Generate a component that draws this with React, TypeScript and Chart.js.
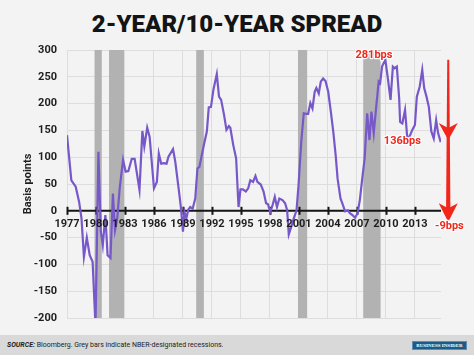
import React, { useEffect, useRef } from "react";
import { Chart, registerables } from "chart.js";
Chart.register(...registerables);

// ---- data ----
const spreadDates = [
  1977.0, 1977.45, 1977.9, 1978.25, 1978.5, 1978.75, 1979.05, 1979.35, 1979.65, 1979.95,
  1980.25, 1980.5, 1980.7, 1980.97, 1981.2, 1981.5, 1981.75, 1981.97, 1982.2, 1982.45,
  1982.8, 1983.07, 1983.35, 1983.7, 1984.0, 1984.5, 1984.8, 1985.0, 1985.3, 1985.55,
  1986.0, 1986.3, 1986.5, 1986.75, 1987.0, 1987.3, 1987.5, 1987.97, 1988.2, 1988.55,
  1988.8, 1989.0, 1989.15, 1989.35, 1989.55, 1989.75, 1990.0, 1990.27, 1990.5, 1990.7,
  1990.95, 1991.2, 1991.47, 1991.67, 1991.9, 1992.15, 1992.5, 1992.73, 1992.95, 1993.25,
  1993.5, 1993.75, 1993.9, 1994.2, 1994.5, 1994.75, 1994.95, 1995.2, 1995.5, 1995.75,
  1995.97, 1996.25, 1996.5, 1996.7, 1997.05, 1997.34, 1997.6, 1997.8, 1998.03, 1998.28,
  1998.5, 1998.73, 1998.97, 1999.3, 1999.57, 1999.78, 1999.95, 2000.2, 2000.47, 2000.75,
  2000.96, 2001.24, 2001.5, 2001.76, 2001.95, 2002.18, 2002.4, 2002.63, 2002.8, 2003.05,
  2003.26, 2003.5, 2003.75, 2004.03, 2004.3, 2004.55, 2004.8, 2005.0, 2005.3, 2005.53,
  2005.77, 2006.05, 2006.3, 2006.54, 2006.8, 2007.06, 2007.3, 2007.55, 2007.8, 2008.06,
  2008.3, 2008.5, 2008.74, 2008.98, 2009.25, 2009.4, 2009.6, 2009.94, 2010.2, 2010.48,
  2010.72, 2010.9, 2011.13, 2011.37, 2011.47, 2011.7, 2011.98, 2012.2, 2012.43, 2012.73,
  2013.0, 2013.2, 2013.5, 2013.76, 2013.96, 2014.2, 2014.44, 2014.7, 2014.95, 2015.2,
  2015.4, 2015.67,
];
const spreadValues = [
  141, 57, 45, 17, -14, -86, -50, -83, -95, -215,
  110, -39, -64, -8, -83, -88, 32, -36, -14, 42,
  95, 73, 74, 97, 97, 39, 149, 120, 155, 138,
  42, 54, 107, 88, 89, 88, 101, 115, 92, 42,
  4, -39, -2, -14, 2, 7, 4, 23, 79, 82,
  104, 126, 148, 193, 194, 226, 255, 213, 207, 179,
  151, 158, 155, 123, 98, 7, 40, 40, 36, 42,
  57, 54, 65, 54, 49, 36, 14, 12, -2, 11,
  26, 7, 23, 20, 14, 1, -44, -30, -14, 1,
  48, 129, 182, 181, 181, 201, 191, 222, 229, 219,
  241, 247, 242, 222, 185, 148, 104, 60, 23, 12,
  -1, 1, -5, -8, -13, -5, 20, 60, 98, 182,
  132, 185, 145, 191, 241, 238, 269, 282, 247, 207,
  269, 266, 269, 210, 166, 163, 188, 138, 138, 151,
  160, 213, 232, 263, 229, 213, 194, 148, 135, 169,
  145, 128,
];
const xTickYears = [1977, 1980, 1983, 1986, 1989, 1992, 1995, 1998, 2001, 2004, 2007, 2010, 2013];
const yMin = -200;
const yMax = 300;
const yStep = 50;
const xMin = 1977;
const xMax = 2015.7;
const recessionStarts = [1979.85, 1981.35, 1990.37, 2000.9, 2007.65];
const recessionEnds = [1980.6, 1982.9, 1991.16, 2001.85, 2009.45];
const noteTexts = ["281bps", "136bps", "-9bps"];
const noteYears = [2008.76, 2011.7, 2016.57];
const noteValues = [291, 129, -29];
const arrowYear = 2016.45;
const arrowTopValue = 282;
const arrowHeadTops = [164, 14];
const arrowHeadTips = [132, -21];

const RED = "#f2261a";

const overlayPlugin = {
  id: "overlay",
  beforeDatasetsDraw(chart: any) {
    const { ctx, chartArea, scales } = chart;
    const x = scales.x, y = scales.y;
    ctx.save();
    ctx.fillStyle = "#b2b2b2";
    recessionStarts.forEach((s, i) => {
      const x1 = x.getPixelForValue(s);
      const x2 = x.getPixelForValue(recessionEnds[i]);
      ctx.fillRect(x1, chartArea.top, x2 - x1, chartArea.bottom - chartArea.top);
    });
    const y0 = y.getPixelForValue(0);
    ctx.strokeStyle = "#151515";
    ctx.lineWidth = 2;
    ctx.beginPath();
    ctx.moveTo(chartArea.left, y0);
    ctx.lineTo(chartArea.right, y0);
    ctx.stroke();
    xTickYears.forEach((v) => {
      const px = Math.round(x.getPixelForValue(v)) + 0.5;
      ctx.beginPath();
      ctx.moveTo(px, y0 - 4);
      ctx.lineTo(px, y0 + 4);
      ctx.stroke();
    });
    ctx.restore();
  },
  afterDatasetsDraw(chart: any) {
    const { ctx, scales } = chart;
    const x = scales.x, y = scales.y;
    ctx.save();
    // arrow
    const ax = x.getPixelForValue(arrowYear);
    const top = y.getPixelForValue(arrowTopValue);
    const bottom = y.getPixelForValue(arrowHeadTips[1]);
    ctx.fillStyle = RED;
    ctx.beginPath();
    ctx.moveTo(ax - 1, top);
    ctx.lineTo(ax + 1, top);
    ctx.lineTo(ax + 2.2, bottom - 8);
    ctx.lineTo(ax - 2.2, bottom - 8);
    ctx.closePath();
    ctx.fill();
    arrowHeadTops.forEach((t, i) => {
      const ty = y.getPixelForValue(t);
      const tip = y.getPixelForValue(arrowHeadTips[i]);
      ctx.beginPath();
      ctx.moveTo(ax, tip);
      ctx.lineTo(ax - 9.5, ty);
      ctx.lineTo(ax, ty + 5);
      ctx.lineTo(ax + 9.5, ty);
      ctx.closePath();
      ctx.fill();
    });
    // notes
    ctx.font = "bold 11px Roboto";
    ctx.textAlign = "center";
    ctx.textBaseline = "middle";
    ctx.lineJoin = "round";
    noteTexts.forEach((t, i) => {
      const px = x.getPixelForValue(noteYears[i]);
      const py = y.getPixelForValue(noteValues[i]);
      ctx.strokeStyle = "rgba(255,255,255,0.9)";
      ctx.lineWidth = 2.5;
      ctx.strokeText(t, px, py);
      ctx.fillStyle = RED;
      ctx.fillText(t, px, py);
    });
    ctx.restore();
  },
};

export default function App() {
  const ref = useRef<HTMLCanvasElement | null>(null);
  useEffect(() => {
    document.body.style.margin = "0";
    if (!ref.current) return;
    const points = spreadDates.map((d, i) => ({ x: d, y: spreadValues[i] }));
    const chart = new Chart(ref.current, {
      type: "line",
      data: {
        datasets: [
          {
            data: points,
            borderColor: "#7758c9",
            borderWidth: 2.2,
            pointRadius: 0,
            tension: 0,
            fill: false,
          },
        ],
      },
      options: {
        animation: false,
        responsive: false,
        layout: { padding: { top: 50, right: 33, bottom: 37, left: 0 } },
        plugins: { legend: { display: false }, title: { display: false }, tooltip: { enabled: false } },
        font: { family: "Roboto" } as any,
        scales: {
          x: {
            type: "linear",
            position: { y: 0 } as any,
            min: xMin,
            max: xMax,
            afterBuildTicks: (scale: any) => {
              scale.ticks = xTickYears.map((v) => ({ value: v }));
            },
            grid: { color: "#dddddd", lineWidth: 1, drawTicks: false },
            border: { display: false },
            ticks: {
              z: 1,
              padding: 7,
              color: "#1e1e1e",
              font: { family: "Roboto", size: 11, weight: "bold" },
              callback: (v: any) => String(v),
              maxRotation: 0,
            },
          },
          y: {
            type: "linear",
            min: yMin,
            max: yMax,
            afterFit: (scale: any) => {
              scale.width = 67;
            },
            ticks: {
              stepSize: yStep,
              padding: 10,
              color: "#1e1e1e",
              font: { family: "Roboto", size: 11, weight: "bold" },
            },
            grid: { color: "#dddddd", lineWidth: 1, drawTicks: false },
            border: { display: false },
            title: {
              display: true,
              text: "Basis points",
              color: "#1e1e1e",
              font: { family: "Roboto", size: 11, weight: "bold" },
              padding: { top: 22, bottom: 0 },
            },
          },
        },
      },
      plugins: [overlayPlugin],
    });
    return () => chart.destroy();
  }, []);

  return (
    <div style={{ position: "fixed", left: 0, top: 0, width: 474, height: 355, background: "#f3f3f3", overflow: "hidden", fontFamily: "Roboto" }}>
      <div style={{ position: "absolute", left: 0, top: 12, width: 474, textAlign: "center", fontSize: 24, lineHeight: "24px", fontWeight: 900, color: "#141414" }}>
        2-YEAR/10-YEAR SPREAD
      </div>
      <canvas ref={ref} width={474} height={355} style={{ position: "absolute", left: 0, top: 0, width: 474, height: 355 }} />
      <div style={{ position: "absolute", left: 0, top: 335, width: 474, height: 20, background: "#d9d9d9" }}>
        <div style={{ position: "absolute", left: 7, top: 6, fontSize: 7, lineHeight: "8px", color: "#222", whiteSpace: "nowrap" }}>
          <b style={{ fontStyle: "italic" }}>SOURCE:</b> Bloomberg. Grey bars indicate NBER-designated recessions.
        </div>
        <div style={{ position: "absolute", left: 412, top: 6, width: 55, height: 9, background: "#1d5c86", border: "1px solid #5b8fb3", boxSizing: "border-box", color: "#fff", fontFamily: "'Liberation Serif', serif", fontSize: 5, lineHeight: "7px", textAlign: "center", whiteSpace: "nowrap", overflow: "hidden", fontWeight: "bold" }}>
          BUSINESS INSIDER
        </div>
      </div>
    </div>
  );
}
